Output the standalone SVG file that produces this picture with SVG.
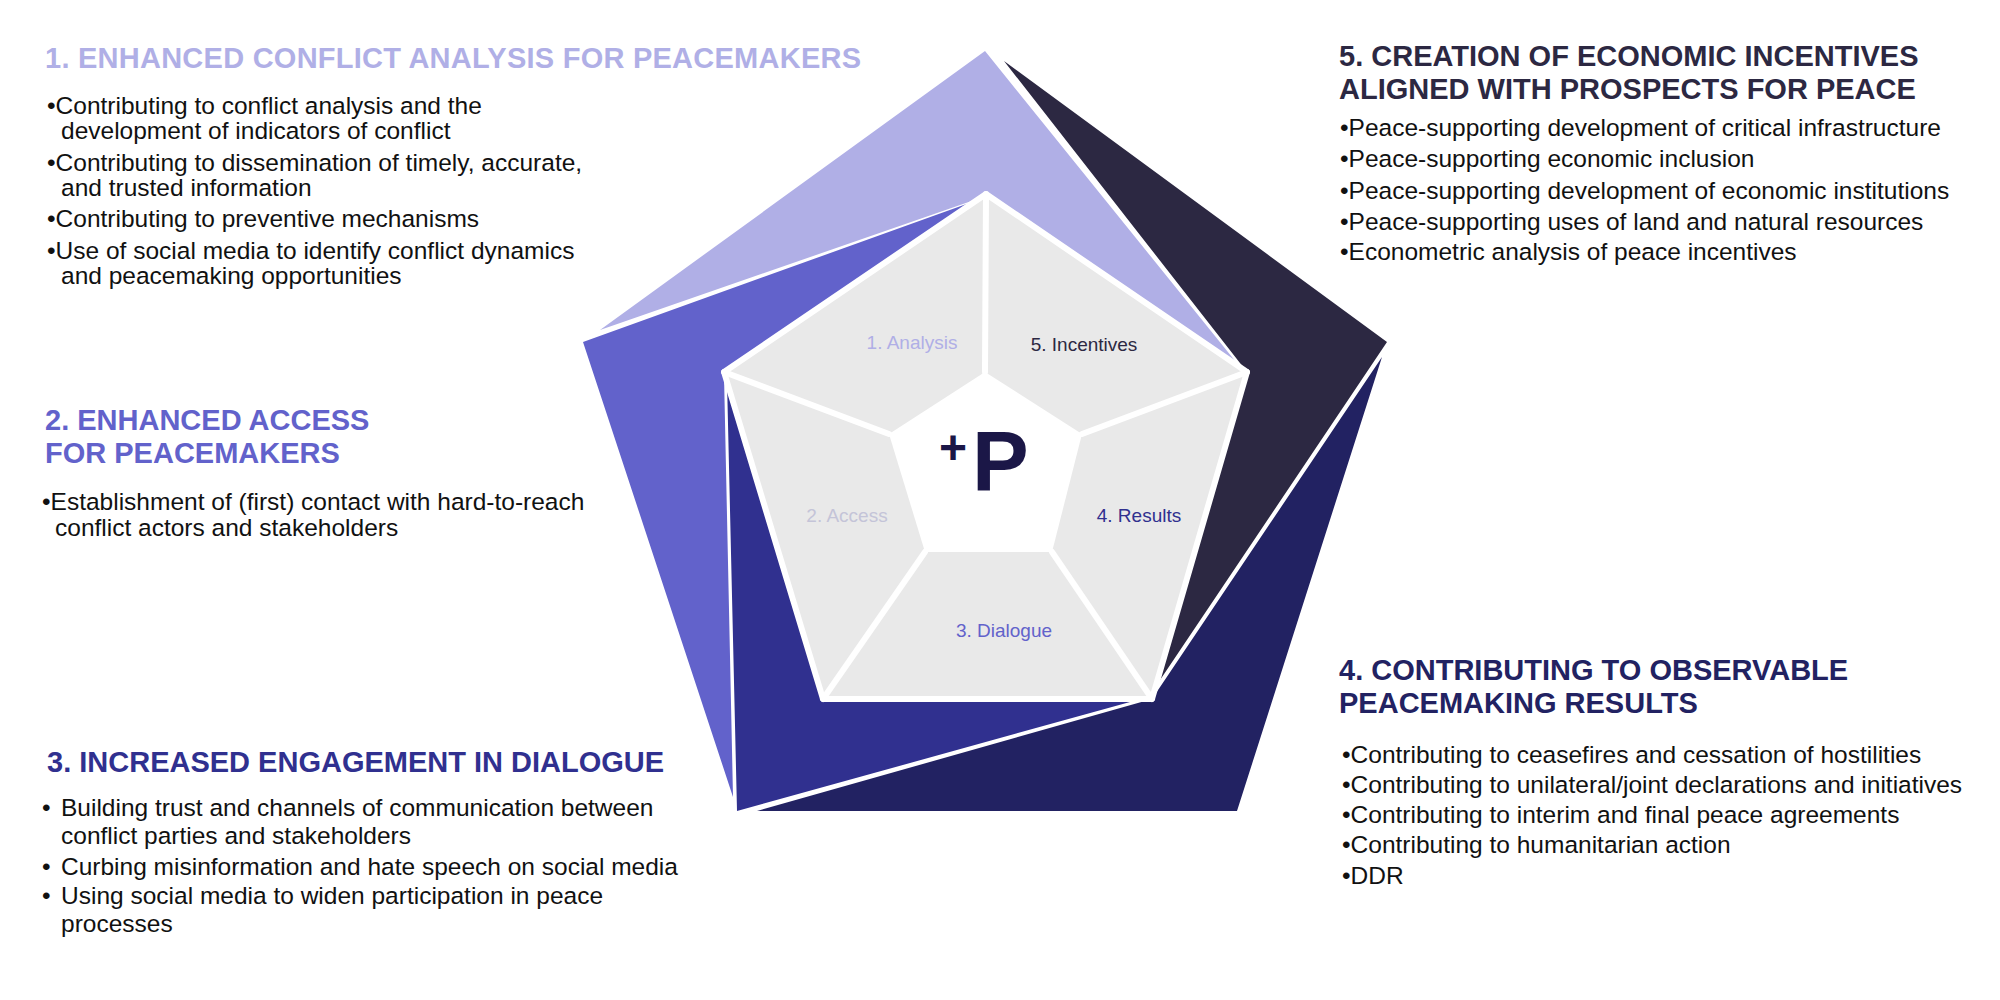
<svg xmlns="http://www.w3.org/2000/svg" width="2000" height="1000" viewBox="0 0 2000 1000">
<style>
text{font-family:"Liberation Sans",Arial,sans-serif}
.h{font-weight:bold;font-size:29px}
.b{font-size:24.5px;fill:#111}
.s{font-size:19px;text-anchor:middle}
.w{stroke:#fff;stroke-width:6;fill:none;stroke-linecap:round}
</style>
<rect width="2000" height="1000" fill="#fff"/>
<g id="pentagon">
<polygon points="985,51 1240,367 986,196 600,330" fill="#B0AFE6"/>
<polygon points="1004,61 1387,342 1154,689 1247,372" fill="#2C2842"/>
<polygon points="1382,357 1237,811 757,811 1152,699" fill="#222262"/>
<polygon points="727,381 737,811 1130,702 823,699" fill="#30308F"/>
<polygon points="583,342 733,797 724,375 972,202" fill="#6262CB"/>
<polygon points="986,194 1247,372 1152,699 823,699 724,372" fill="#E9E9E9" stroke="#fff" stroke-width="6" stroke-linejoin="round"/>
<polygon points="985,372 1082,434 1052,552 925,552 889,434" fill="#fff"/>
<g class="w"><line x1="985" y1="372" x2="986" y2="194"/><line x1="1082" y1="434" x2="1247" y2="372"/><line x1="1052" y1="552" x2="1152" y2="699"/><line x1="925" y1="552" x2="823" y2="699"/><line x1="889" y1="434" x2="724" y2="372"/></g>
<text x="939" y="464" font-size="48" font-weight="bold" fill="#1B1747">+</text>
<text x="972" y="491" font-size="85" font-weight="bold" fill="#1B1747">P</text>
<text class="s" x="912" y="349" fill="#B0AFE6">1. Analysis</text>
<text class="s" x="1084" y="351" fill="#2C2842">5. Incentives</text>
<text class="s" x="847" y="522" fill="#C4C4D8">2. Access</text>
<text class="s" x="1139" y="522" fill="#30308F">4. Results</text>
<text class="s" x="1004" y="637" fill="#6262CB">3. Dialogue</text>
</g>
<g id="t1">
<text class="h" x="45" y="68" fill="#B0AFE6" textLength="816">1.  ENHANCED CONFLICT ANALYSIS FOR PEACEMAKERS</text>
<g class="b"><text x="47" y="114">•Contributing to conflict analysis and the</text><text x="61" y="139">development of indicators of conflict</text><text x="47" y="171">•Contributing to dissemination of timely, accurate,</text><text x="61" y="196">and trusted information</text><text x="47" y="227">•Contributing to preventive mechanisms</text><text x="47" y="259">•Use of social media to identify conflict dynamics</text><text x="61" y="284">and peacemaking opportunities</text></g>
</g>
<g id="t2">
<text class="h" x="45" y="430" fill="#6262CB">2. ENHANCED ACCESS</text><text class="h" x="45" y="463" fill="#6262CB">FOR PEACEMAKERS</text>
<g class="b"><text x="42" y="510">•Establishment of (first) contact with hard-to-reach</text><text x="55" y="536">conflict actors and stakeholders</text></g>
</g>
<g id="t3">
<text class="h" x="47" y="772" fill="#30308F">3. INCREASED ENGAGEMENT IN DIALOGUE</text>
<g class="b"><text x="42" y="816">•</text><text x="61" y="816">Building trust and channels of communication between</text><text x="61" y="844">conflict parties and stakeholders</text><text x="42" y="875">•</text><text x="61" y="875">Curbing misinformation and hate speech on social media</text><text x="42" y="904">•</text><text x="61" y="904">Using social media to widen participation in peace</text><text x="61" y="932">processes</text></g>
</g>
<g id="t5">
<text class="h" x="1339" y="66" fill="#2C2842">5. CREATION OF ECONOMIC INCENTIVES</text><text class="h" x="1339" y="99" fill="#2C2842">ALIGNED WITH PROSPECTS FOR PEACE</text>
<g class="b"><text x="1340" y="136">•Peace-supporting development of critical infrastructure</text><text x="1340" y="167">•Peace-supporting economic inclusion</text><text x="1340" y="199">•Peace-supporting development of economic institutions</text><text x="1340" y="230">•Peace-supporting uses of land and natural resources</text><text x="1340" y="260">•Econometric analysis of peace incentives</text></g>
</g>
<g id="t4">
<text class="h" x="1339" y="680" fill="#222262">4. CONTRIBUTING TO OBSERVABLE</text><text class="h" x="1339" y="713" fill="#222262">PEACEMAKING RESULTS</text>
<g class="b"><text x="1342" y="763">•Contributing to ceasefires and cessation of hostilities</text><text x="1342" y="793">•Contributing to unilateral/joint declarations and initiatives</text><text x="1342" y="823">•Contributing to interim and final peace agreements</text><text x="1342" y="853">•Contributing to humanitarian action</text><text x="1342" y="884">•DDR</text></g>
</g>
<g id="connectors"/>
</svg>
